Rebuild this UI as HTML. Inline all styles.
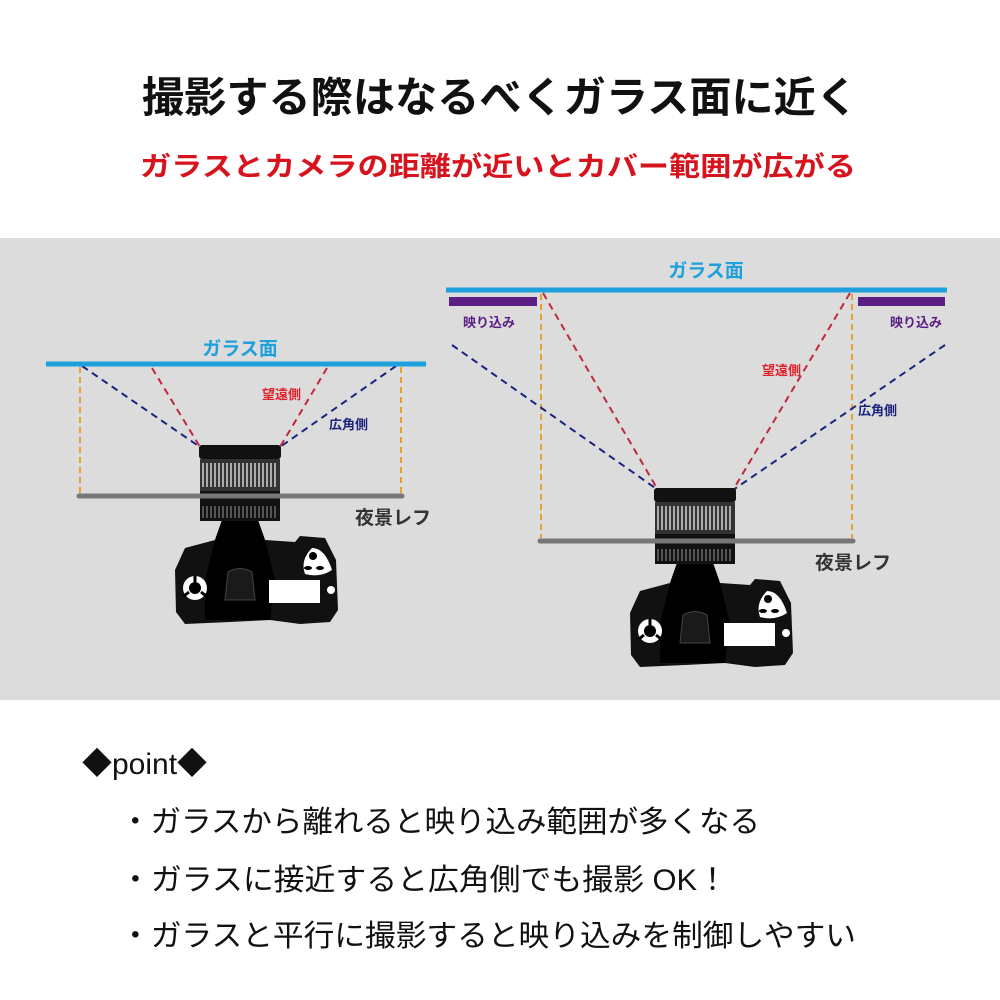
<!DOCTYPE html>
<html><head><meta charset="utf-8"><style>
html,body{margin:0;padding:0;background:#fff}
svg{display:block}
text{font-family:"Liberation Sans","Noto Sans CJK JP",sans-serif;font-weight:bold}
</style></head><body>
<svg width="1000" height="1000" viewBox="0 0 1000 1000" xmlns="http://www.w3.org/2000/svg">
<defs>
<g id="cam">
  <path d="M185,548 L215,540 L222,520 L258,520 L265,540 L295,542 L300,536 L325,538 L336,560 L338,610 L330,622 L300,624 L270,620 L230,622 L185,624 L176,612 L175,570 Z" fill="#111"/>
  <path d="M215,540 L222,520 L258,520 L265,540 L275,580 L270,620 L205,620 L205,580 Z" fill="#000"/>
  <path d="M225,600 L228,572 Q240,565 252,572 L255,600 Z" fill="#1a1a1a" stroke="#444" stroke-width="1"/>
  <circle cx="195" cy="588" r="12" fill="#fff"/>
  <circle cx="195" cy="588" r="6" fill="#000"/>
  <path d="M195,582 L195,576 M189,592 L184,596 M201,592 L206,596" stroke="#000" stroke-width="3"/>
  <rect x="269" y="580" width="51" height="23" fill="#fff"/>
  <path d="M312,548 Q325,548 332,570 Q320,578 305,574 Q300,560 312,548 Z" fill="#fff"/>
  <circle cx="313" cy="556" r="4" fill="#000"/>
  <ellipse cx="308" cy="568" rx="4" ry="2" fill="#000"/>
  <ellipse cx="320" cy="568" rx="4" ry="2" fill="#000"/>
  <circle cx="331" cy="590" r="4" fill="#fff"/>
  <rect x="199" y="445" width="82" height="14" rx="3" fill="#111"/>
  <rect x="200" y="459" width="80" height="32" fill="#333"/>
  <g stroke="#ddd" stroke-width="1.4">
    <path d="M203,463V487 M207,463V487 M211,463V487 M215,463V487 M219,463V487 M223,463V487 M227,463V487 M231,463V487 M235,463V487 M239,463V487 M243,463V487 M247,463V487 M251,463V487 M255,463V487 M259,463V487 M263,463V487 M267,463V487 M271,463V487 M275,463V487"/>
  </g>
  <rect x="200" y="491" width="80" height="30" fill="#111"/>
  <g stroke="#999" stroke-width="1">
    <path d="M203,506V518 M207,506V518 M211,506V518 M215,506V518 M219,506V518 M223,506V518 M227,506V518 M231,506V518 M235,506V518 M239,506V518 M243,506V518 M247,506V518 M251,506V518 M255,506V518 M259,506V518 M263,506V518 M267,506V518 M271,506V518 M275,506V518"/>
  </g>
</g>
</defs>
<rect width="1000" height="1000" fill="#fff"/>
<text x="500" y="112" text-anchor="middle" font-size="42" fill="#111" textLength="716" lengthAdjust="spacingAndGlyphs">撮影する際はなるべくガラス面に近く</text>
<text x="498" y="176" text-anchor="middle" font-size="27" fill="#d7141e" textLength="716" lengthAdjust="spacingAndGlyphs">ガラスとカメラの距離が近いとカバー範囲が広がる</text>

<rect x="0" y="238" width="1000" height="462" fill="#dcdcdc"/>

<text x="240" y="355" text-anchor="middle" font-size="19" fill="#1ea0dc">ガラス面</text>
<line x1="80" y1="367" x2="80" y2="495" stroke="#e8a030" stroke-width="2" stroke-dasharray="6,4"/>
<line x1="401" y1="367" x2="401" y2="495" stroke="#e8a030" stroke-width="2" stroke-dasharray="6,4"/>
<line x1="82" y1="366" x2="200" y2="447" stroke="#1a237e" stroke-width="2" stroke-dasharray="7,5"/>
<line x1="396" y1="366" x2="280" y2="447" stroke="#1a237e" stroke-width="2" stroke-dasharray="7,5"/>
<line x1="152" y1="368" x2="200" y2="447" stroke="#c0283c" stroke-width="2" stroke-dasharray="7,5"/>
<line x1="327" y1="368" x2="280" y2="447" stroke="#c0283c" stroke-width="2" stroke-dasharray="7,5"/>
<line x1="46" y1="364" x2="426" y2="364" stroke="#1ea0dc" stroke-width="5"/>
<text x="262" y="399" font-size="13" fill="#e0202a">望遠側</text>
<text x="329" y="429" font-size="13" fill="#1a237e">広角側</text>
<use href="#cam"/>
<line x1="79" y1="496" x2="402" y2="496" stroke="#777" stroke-width="5" stroke-linecap="round"/>
<text x="355" y="524" font-size="19" fill="#333">夜景レフ</text>

<text x="706" y="277" text-anchor="middle" font-size="19" fill="#1ea0dc">ガラス面</text>
<rect x="449" y="297" width="88" height="9" fill="#5b1e86"/>
<rect x="858" y="297" width="87" height="9" fill="#5b1e86"/>
<text x="463" y="327" font-size="13" fill="#5b1e86">映り込み</text>
<text x="890" y="327" font-size="13" fill="#5b1e86">映り込み</text>
<line x1="541" y1="294" x2="541" y2="538" stroke="#e8a030" stroke-width="2" stroke-dasharray="6,4"/>
<line x1="852" y1="294" x2="852" y2="538" stroke="#e8a030" stroke-width="2" stroke-dasharray="6,4"/>
<line x1="452" y1="345" x2="658" y2="490" stroke="#1a237e" stroke-width="2" stroke-dasharray="7,5"/>
<line x1="945" y1="345" x2="733" y2="490" stroke="#1a237e" stroke-width="2" stroke-dasharray="7,5"/>
<line x1="543" y1="293" x2="658" y2="490" stroke="#c0283c" stroke-width="2" stroke-dasharray="7,5"/>
<line x1="850" y1="293" x2="733" y2="490" stroke="#c0283c" stroke-width="2" stroke-dasharray="7,5"/>
<line x1="446" y1="290" x2="947" y2="290" stroke="#1ea0dc" stroke-width="5"/>
<text x="762" y="375" font-size="13" fill="#e0202a">望遠側</text>
<text x="858" y="415" font-size="13" fill="#1a237e">広角側</text>
<use href="#cam" transform="translate(455,43)"/>
<line x1="540" y1="541" x2="853" y2="541" stroke="#777" stroke-width="5" stroke-linecap="round"/>
<text x="815" y="569" font-size="19" fill="#333">夜景レフ</text>

<text x="82" y="774" font-size="30" fill="#111" style="font-weight:normal">◆point◆</text>
<text x="120" y="832" font-size="30" fill="#111" style="font-weight:normal" textLength="640" lengthAdjust="spacingAndGlyphs">・ガラスから離れると映り込み範囲が多くなる</text>
<text x="120" y="890" font-size="30" fill="#111" style="font-weight:normal" textLength="608" lengthAdjust="spacingAndGlyphs">・ガラスに接近すると広角側でも撮影 OK！</text>
<text x="120" y="946" font-size="30" fill="#111" style="font-weight:normal" textLength="736" lengthAdjust="spacingAndGlyphs">・ガラスと平行に撮影すると映り込みを制御しやすい</text>
</svg>
</body></html>
